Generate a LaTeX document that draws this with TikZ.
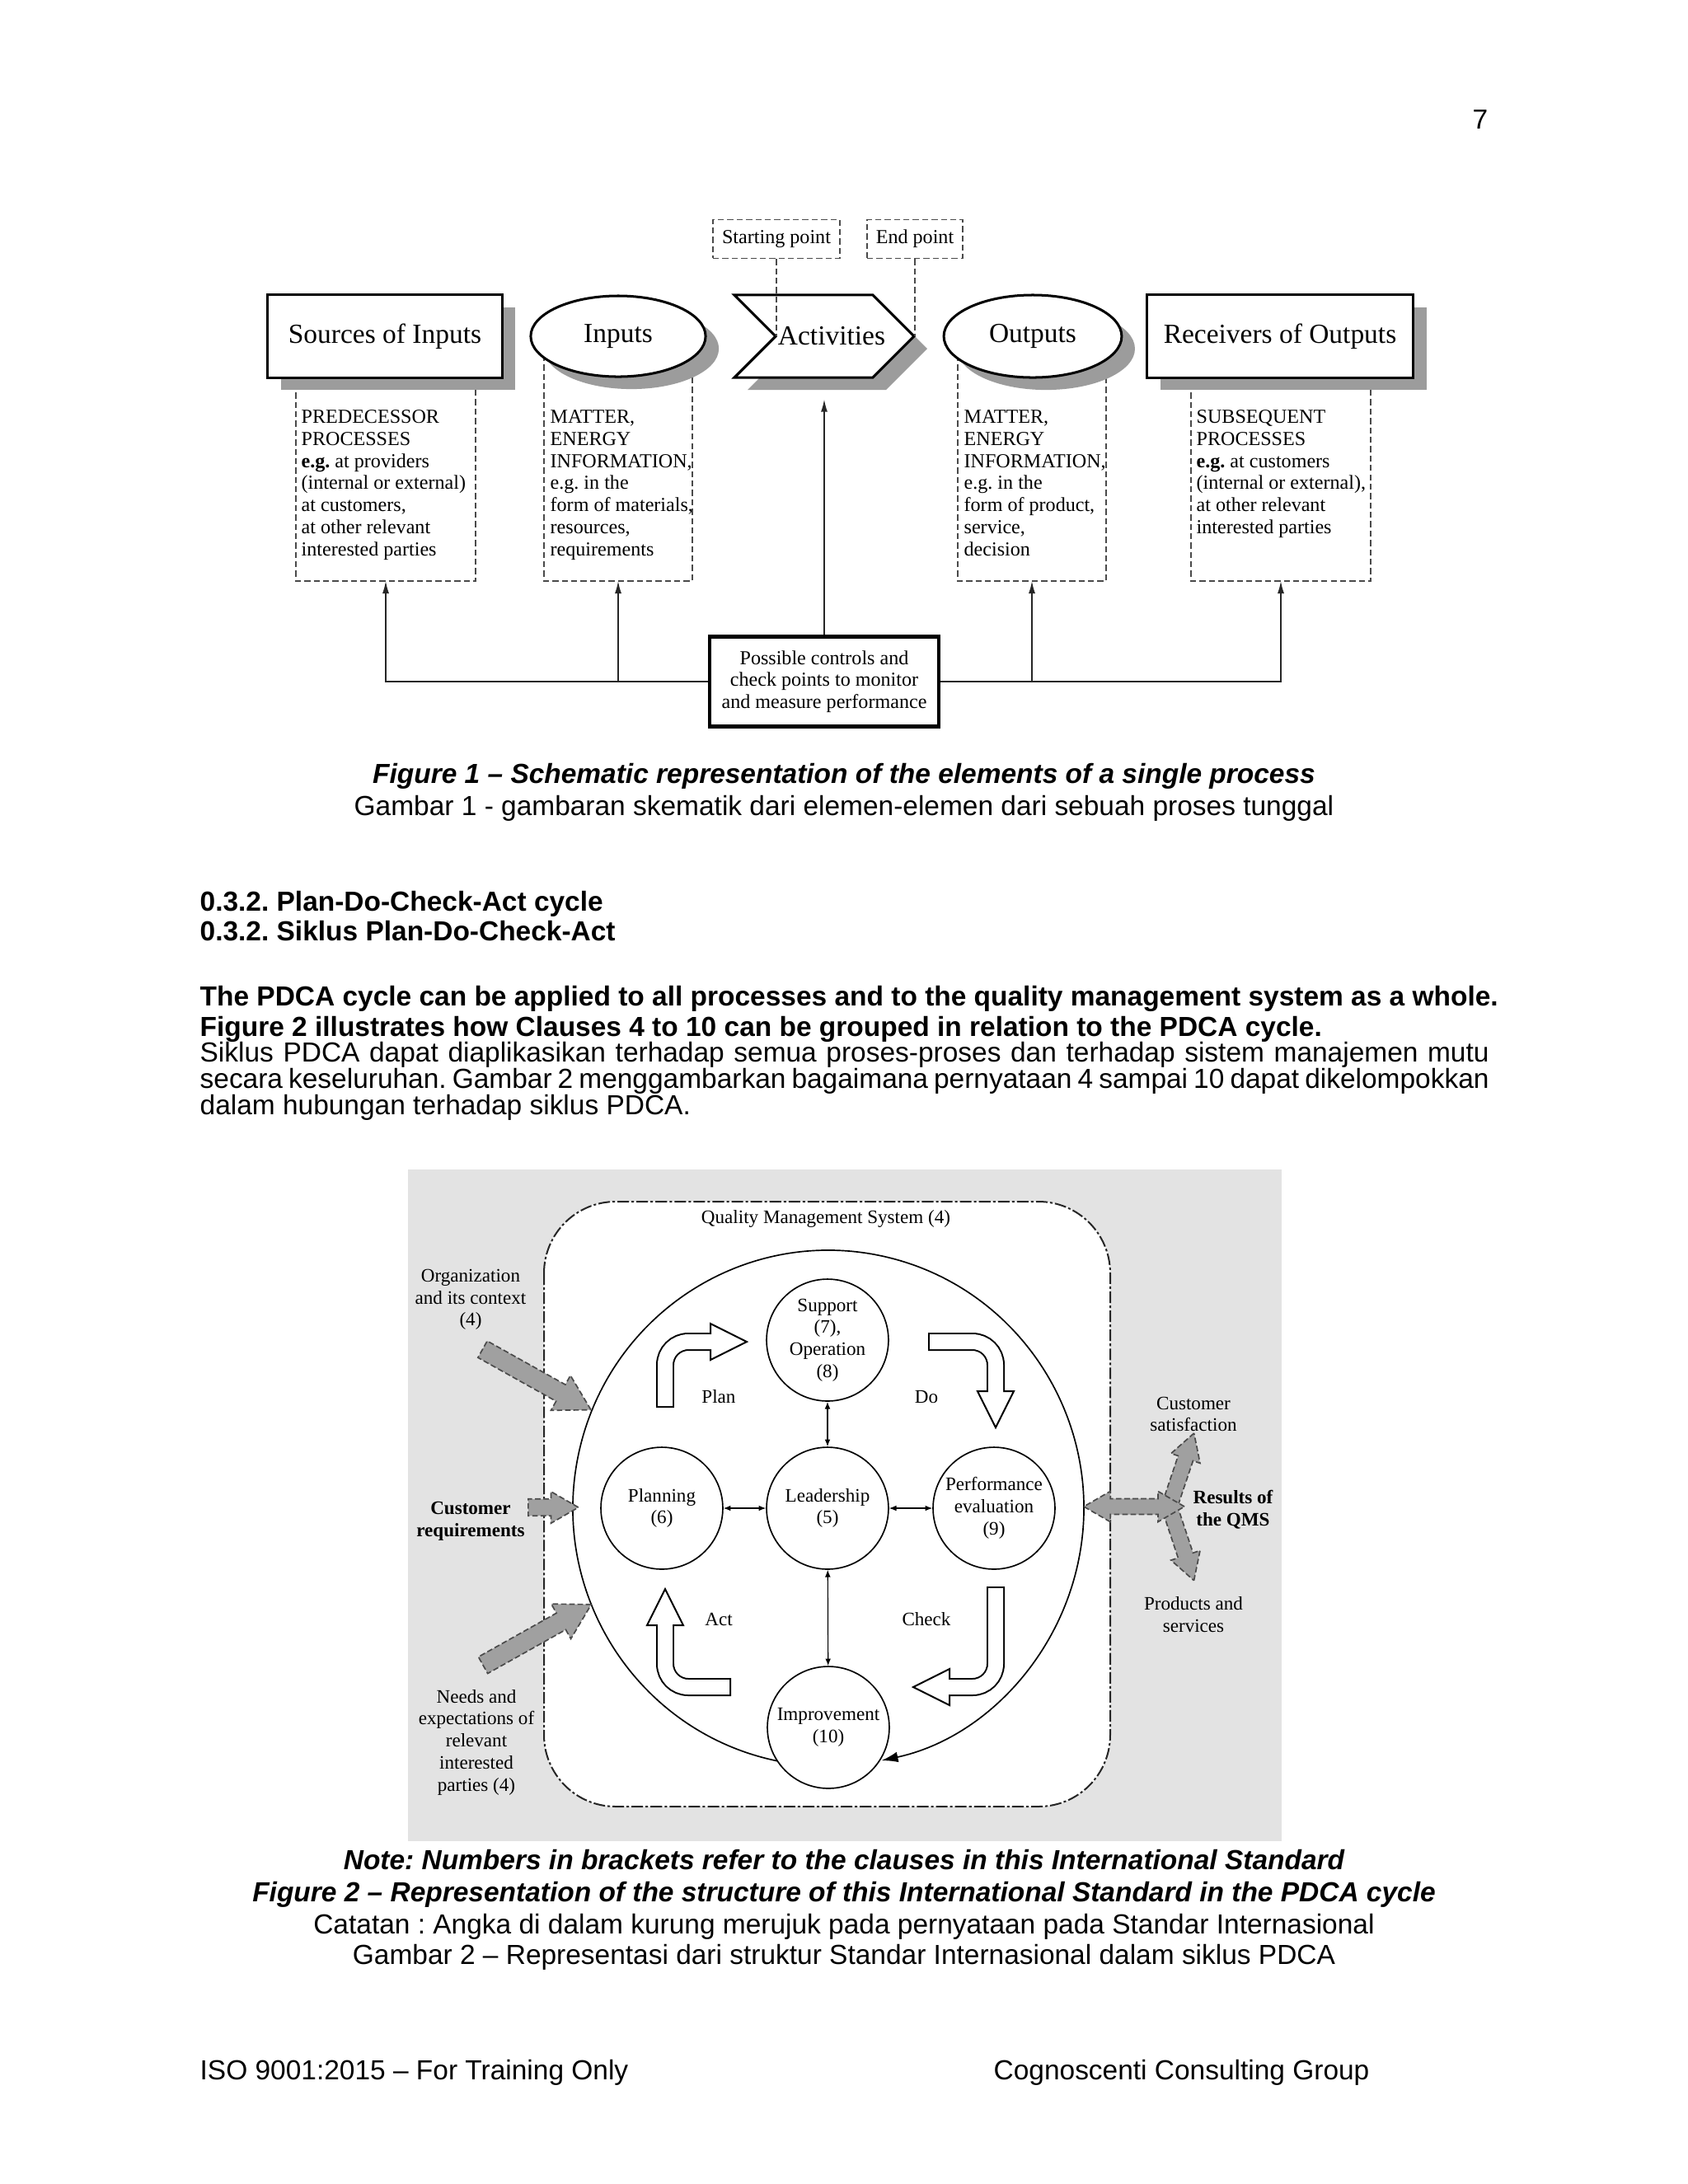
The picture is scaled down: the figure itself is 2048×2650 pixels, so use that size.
\documentclass[tikz,border=0pt]{standalone}
\usepackage{fontspec}
\setmainfont{Liberation Sans}
\newfontfamily\figfont{Liberation Serif}
\usepackage{tikz}
\usetikzlibrary{arrows,arrows.meta,shapes,calc,positioning,shadows}
\definecolor{PanelGray}{HTML}{E3E3E3}
\definecolor{ShadeGray}{HTML}{9C9C9C}
\definecolor{FlowGray}{HTML}{A0A0A0}
\definecolor{RuleGray}{HTML}{4A4A4A}
\newcommand{\pagefont}{\fontsize{10}{11}\selectfont}
\newcommand{\boxfont}{\figfont\fontsize{10}{12}\selectfont}
\newcommand{\notefont}{\figfont\fontsize{7.2}{8}\selectfont}
\newcommand{\cyclefont}{\figfont\fontsize{6.9}{8}\selectfont}
\newcommand{\fulljust}[1]{\makebox[467.4pt][s]{#1}}
\frenchspacing

\begin{document}
\begin{tikzpicture}[x=0.298828pt, y=-0.298828pt,
  pagetext/.style={inner sep=0pt, font=\pagefont},
  element/.style={draw, line width=0.9pt, fill=white, font=\boxfont, minimum height=29.9pt,
    drop shadow={shadow xshift=4.8pt, shadow yshift=-4.5pt, fill=ShadeGray, opacity=1}},
  tagbox/.style={draw=RuleGray, dash pattern=on 2.2pt off 1.2pt, line width=0.5pt,
    font=\notefont, minimum height=14pt, inner sep=0pt},
  tagline/.style={draw=RuleGray, dash pattern=on 2.2pt off 1.2pt, line width=0.5pt},
  notebox/.style={draw=RuleGray, dash pattern=on 2.2pt off 1.2pt, line width=0.5pt},
  notetext/.style={anchor=north west, align=left, inner sep=0pt, font=\notefont},
  ctrlbox/.style={draw, line width=1.3pt, fill=white, minimum width=83.1pt, minimum height=32.6pt,
    align=center, font=\notefont, inner sep=0pt},
  feed/.style={-{Latex[length=4.5pt,width=2.4pt]}, line width=0.45pt, draw=black!85},
  qms/.style={draw=black!85, fill=white, line width=0.6pt,
    dash pattern=on 4.2pt off 0.9pt on 0.9pt off 0.9pt, rounded corners=26pt},
  orbit/.style={line width=0.5pt, -{Latex[length=6pt,width=3.8pt]}},
  clause/.style={circle, draw, line width=0.5pt, fill=white, minimum size=44.2pt, inner sep=0pt,
    align=center, font=\cyclefont},
  link/.style={{Latex[length=2.6pt,width=2pt]}-{Latex[length=2.6pt,width=2pt]}, line width=0.35pt},
  hollow/.style={line width=6.57pt, rounded corners=8.4pt},
  hollowcore/.style={white, line width=5.38pt, rounded corners=8.4pt},
  hollowhead/.style={draw, fill=white, line width=0.6pt},
  flow/.style={single arrow, draw=RuleGray, fill=FlowGray, dash pattern=on 2pt off 1pt,
    line width=0.5pt, inner xsep=0pt, single arrow tip angle=60},
  phase/.style={font=\cyclefont, inner sep=0pt},
  outer/.style={align=center, font=\cyclefont, inner sep=0pt}]

\fill[white] (0,0) rectangle (2048,2650);
\useasboundingbox (0,0) rectangle (2048,2650);

\node[pagetext, anchor=base east] (pageno) at (1806,156) {7};

% Figure 1: elements of a single process
\draw[notebox] (359,408) -- (359,705) -- (577,705) -- (577,408);
\draw[notebox] (660,408) -- (660,705) -- (840,705) -- (840,408);
\draw[notebox] (1162,408) -- (1162,705) -- (1342,705) -- (1342,408);
\draw[notebox] (1445,408) -- (1445,705) -- (1663,705) -- (1663,408);

\node[element, minimum width=84.9pt] (sources) at (467,408) {Sources of Inputs};
\node[element, ellipse, minimum width=63.4pt, minimum height=29.3pt] (inputs) at (750,408) {Inputs};
\node[element, signal, signal to=east, signal from=west, minimum width=65.1pt, inner sep=0pt] (activities) at (1000,408) {};
\node[font=\boxfont, inner sep=0pt] (actname) at (1009,408) {Activities};
\node[element, ellipse, minimum width=64.5pt] (outputs) at (1253,408) {Outputs};
\node[element, minimum width=96.5pt] (receivers) at (1553,408) {Receivers of Outputs};

\node[tagbox, minimum width=46pt] (startpt) at (942,290) {Starting point};
\node[tagbox, minimum width=34.7pt] (endpt) at (1110,290) {End point};
\draw[tagline] (startpt.south) -- (startpt.south |- activities.center);
\draw[tagline] (endpt.south) -- (endpt.south |- activities.center);

\node[notetext] (srcnote) at (365,497) {PREDECESSOR\\PROCESSES\\\textbf{e.g.} at providers\\(internal or external)\\at customers,\\at other relevant\\interested parties};
\node[notetext] (inpnote) at (667,497) {MATTER,\\ENERGY\\INFORMATION,\\e.g. in the\\form of materials,\\resources,\\requirements};
\node[notetext] (outnote) at (1169,497) {MATTER,\\ENERGY\\INFORMATION,\\e.g. in the\\form of product,\\service,\\decision};
\node[notetext] (recnote) at (1451,497) {SUBSEQUENT\\PROCESSES\\\textbf{e.g.} at customers\\(internal or external),\\at other relevant\\interested parties};

\node[ctrlbox] (ctrl) at (1000,827) {Possible controls and\\check points to monitor\\and measure performance};
\coordinate (srcfoot) at (468,705);
\coordinate (inpfoot) at (750,705);
\coordinate (outfoot) at (1252,705);
\coordinate (recfoot) at (1554,705);
\draw[feed] (ctrl.west) -| (srcfoot);
\draw[feed] (ctrl.west -| inpfoot) -- (inpfoot);
\draw[feed] (ctrl.east) -| (recfoot);
\draw[feed] (ctrl.east -| outfoot) -- (outfoot);
\draw[feed, shorten >=7.5pt] (ctrl.north) -- (activities.south);

\node[pagetext, anchor=base, font=\pagefont\bfseries\itshape] (capA) at (1024,950) {Figure 1 – Schematic representation of the elements of a single process};
\node[pagetext, anchor=base] (capAid) at (1024,989) {Gambar 1 - gambaran skematik dari elemen-elemen dari sebuah proses tunggal};

% section text
\node[pagetext, anchor=base west, font=\pagefont\bfseries] (secA) at (242,1105) {0.3.2. Plan-Do-Check-Act cycle};
\node[pagetext, anchor=base west, font=\pagefont\bfseries] (secAid) at (242,1141) {0.3.2. Siklus Plan-Do-Check-Act};
\node[pagetext, anchor=base west, font=\pagefont\bfseries] (paraA) at (242,1220) {The PDCA cycle can be applied to all processes and to the quality management system as a whole.};
\node[pagetext, anchor=base west, font=\pagefont\bfseries] (paraB) at (242,1257) {Figure 2 illustrates how Clauses 4 to 10 can be grouped in relation to the PDCA cycle.};
\node[pagetext, anchor=base west] (paraC) at (242,1288) {\fulljust{Siklus PDCA dapat diaplikasikan terhadap semua proses-proses dan terhadap sistem manajemen mutu}};
\node[pagetext, anchor=base west] (paraD) at (242,1320) {\fulljust{secara keseluruhan. Gambar 2 menggambarkan bagaimana pernyataan 4 sampai 10 dapat dikelompokkan}};
\node[pagetext, anchor=base west] (paraE) at (242,1352) {dalam hubungan terhadap siklus PDCA.};

% Figure 2: PDCA cycle
\fill[PanelGray] (495,1419) rectangle (1555,2234);
\draw[qms] (660,1458) rectangle (1347,2192);
\node[phase] (qmslabel) at (1002,1479) {Quality Management System (4)};
\draw[orbit] (943.2,2136.7) arc[start angle=101.5, end angle=438, x radius=310, y radius=313];

\node[clause] (support) at (1004,1626) {Support\\(7),\\Operation\\(8)};
\node[clause] (leader) at (1004,1830) {Leadership\\(5)};
\node[clause] (planning) at (803,1830) {Planning\\(6)};
\node[clause] (perform) at (1206,1830) {Performance\\evaluation\\(9)};
\node[clause] (improve) at (1005,2096) {Improvement\\(10)};
\draw[link] (leader) -- (support);
\draw[link] (leader) -- (planning);
\draw[link] (leader) -- (perform);
\draw[link] (leader) -- (improve);

% hollow turning arrows
\draw[hollow] (807,1708) -- (807,1628) -- (864,1628);
\draw[hollowhead] (862,1606) -- (906,1628) -- (862,1650) -- cycle;
\draw[hollowcore] (807,1706) -- (807,1628) -- (866,1628);
\draw[hollow] (1126,1628) -- (1208,1628) -- (1208,1690);
\draw[hollowhead] (1186,1688) -- (1208,1732) -- (1230,1688) -- cycle;
\draw[hollowcore] (1128,1628) -- (1208,1628) -- (1208,1692);
\draw[hollow] (1208,1925) -- (1208,2047) -- (1150,2047);
\draw[hollowhead] (1152,2025) -- (1108,2047) -- (1152,2069) -- cycle;
\draw[hollowcore] (1208,1927) -- (1208,2047) -- (1148,2047);
\draw[hollow] (887,2047) -- (807,2047) -- (807,1970);
\draw[hollowhead] (785,1972) -- (807,1928) -- (829,1972) -- cycle;
\draw[hollowcore] (885,2047) -- (807,2047) -- (807,1968);

\node[phase] (planlabel) at (872,1695) {Plan};
\node[phase] (dolabel) at (1124,1695) {Do};
\node[phase] (actlabel) at (872,1965) {Act};
\node[phase] (checklabel) at (1124,1965) {Check};

% grey inputs and results
\node[flow, minimum height=45pt, inner ysep=3.2pt, single arrow head extend=3.8pt, rotate=-29.2] (orgflow) at (642.5,1669) {};
\node[flow, minimum height=18.2pt, inner ysep=2.8pt, single arrow head extend=2.7pt] (custflow) at (662.5,1829) {};
\node[flow, minimum height=45pt, inner ysep=3.2pt, single arrow head extend=3.8pt, rotate=29.3] (needflow) at (643,1988.5) {};
\node[flow, minimum height=26.3pt, inner ysep=2.6pt, single arrow head extend=2.7pt, rotate=71.4] (satflow) at (1432,1788.5) {};
\node[flow, minimum height=26.4pt, inner ysep=2.6pt, single arrow head extend=2.7pt, rotate=-71.6] (prodflow) at (1432,1868) {};
\node[flow, double arrow, minimum height=36.5pt, inner ysep=2.6pt, double arrow head extend=2.7pt, double arrow tip angle=60] (resflow) at (1376,1828) {};

\node[outer] (orglabel) at (571,1577) {Organization\\and its context\\(4)};
\node[outer, font=\cyclefont\bfseries] (custlabel) at (571,1846) {Customer\\requirements};
\node[outer] (needlabel) at (578,2114) {Needs and\\expectations of\\relevant\\interested\\parties (4)};
\node[outer] (satlabel) at (1448,1716) {Customer\\satisfaction};
\node[outer, font=\cyclefont\bfseries] (reslabel) at (1496,1832) {Results of\\the QMS};
\node[outer] (prodlabel) at (1448,1959) {Products and\\services};

\node[pagetext, anchor=base, font=\pagefont\bfseries\itshape] (noteB) at (1024,2268) {Note: Numbers in brackets refer to the clauses in this International Standard};
\node[pagetext, anchor=base, font=\pagefont\bfseries\itshape] (capB) at (1024,2307) {Figure 2 – Representation of the structure of this International Standard in the PDCA cycle};
\node[pagetext, anchor=base] (noteBid) at (1024,2346) {Catatan : Angka di dalam kurung merujuk pada pernyataan pada Standar Internasional};
\node[pagetext, anchor=base] (capBid) at (1024,2383) {Gambar 2 – Representasi dari struktur Standar Internasional dalam siklus PDCA};

\node[pagetext, anchor=base west] (footL) at (242,2523) {ISO 9001:2015 – For Training Only};
\node[pagetext, anchor=base west] (footR) at (1205,2523) {Cognoscenti Consulting Group};

\end{tikzpicture}
\end{document}
